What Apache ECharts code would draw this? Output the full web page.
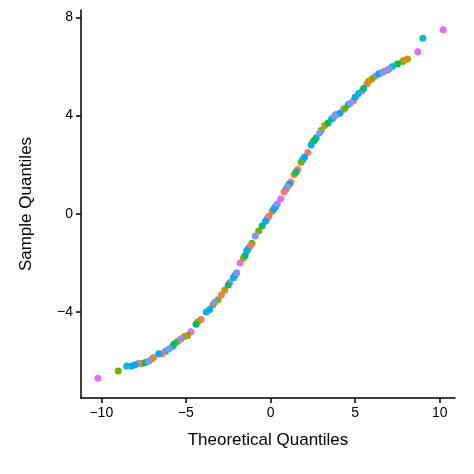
<!DOCTYPE html><html><head><meta charset="utf-8"><script src="https://cdn.jsdelivr.net/npm/echarts@6/dist/echarts.min.js"></script></head><body style="margin:0"><div id="c" style="width:474px;height:474px"></div><script>
const xTicks=[-10,-5,0,5,10];
const yTicks=[-4,0,4,8];
const colors=['#E76BF3','#00BFC4','#7CAE00','#F8766D','#C49A00','#00A9FF','#00BE67','#8494FF'];
const s1=[[-10.2,-6.7],[10.2,7.5],[8.7,6.6],[-4.7,-4.8],[1.2,1.3],[3.7,3.9],[-1.8,-2.0],[6.2,5.6],[-2.4,-2.8],[0.6,0.6],[4.3,4.25],[-6.9,-5.85],[5.4,5.0],[-0.2,-0.2]];
const s2=[[9,7.15],[-8.5,-6.2],[-2.2,-2.6],[2.7,3.1],[5.2,4.9],[-6.2,-5.6],[0.3,0.3],[7.2,6.0],[-3.8,-4.0],[1.9,2.2],[-5.8,-5.4],[-1.3,-1.4],[3.6,3.85],[6.9,5.85]];
const s3=[[-9,-6.4],[-3.1,-3.5],[1.8,2.1],[4.4,4.3],[-0.7,-0.7],[7.8,6.2],[-5.5,-5.2],[-1.1,-1.2],[3.0,3.4],[6.0,5.5],[-4.9,-4.95],[0.9,1.0],[-7.6,-6.1]];
const s4=[[-7.8,-6.1],[-4.1,-4.3],[-1.2,-1.3],[2.2,2.5],[4.9,4.6],[6.7,5.8],[0.8,0.9],[-2.9,-3.3],[-0.1,-0.1],[3.9,4.05],[-6.4,-5.7],[1.6,1.8],[5.7,5.3]];
const s5=[[8.1,6.3],[-7,-5.9],[-2.7,-3.1],[0.1,0.1],[3.2,3.6],[5.8,5.4],[-5.1,-5.0],[-1.6,-1.8],[1.4,1.6],[-4.3,-4.4],[7.9,6.25],[2.5,2.95],[-3.4,-3.7]];
const s6=[[-8.2,-6.2],[-3.6,-3.9],[-0.3,-0.3],[2.4,2.8],[4.1,4.1],[6.4,5.7],[-6.6,-5.7],[-1.4,-1.5],[2.0,2.3],[5.0,4.75],[-8.0,-6.15],[0.2,0.2],[-2.1,-2.5]];
const s7=[[-7.4,-6.05],[-1.5,-1.7],[1.5,1.7],[3.4,3.7],[5.5,5.1],[-4.4,-4.5],[7.5,6.1],[-0.5,-0.5],[2.6,3.0],[-2.5,-2.9],[4.6,4.45],[-5.7,-5.3],[1.1,1.2]];
const s8=[[-6,-5.5],[-2,-2.4],[-0.9,-0.9],[1,1.1],[2.9,3.3],[4.7,4.5],[7,5.9],[-3.3,-3.6],[0.4,0.4],[-5.3,-5.1],[-7.2,-6.0],[3.8,4.0],[6.6,5.75]];
const groups=[s1,s2,s3,s4,s5,s6,s7,s8];
const font='Liberation Sans';
const ax=(name,min,max,ticks,gap)=>({type:'value',min,max,name,nameLocation:'middle',nameGap:gap,
 nameTextStyle:{fontFamily:font,fontSize:17,color:'#000'},splitLine:{show:false},
 axisLine:{onZero:false,lineStyle:{color:'#000',width:1.5}},
 axisTick:{customValues:ticks,length:5,lineStyle:{color:'#000',width:1.5}},
 axisLabel:{customValues:ticks,fontFamily:font,fontSize:14,color:'#000',formatter:v=>String(v).replace('-','\u2212')}});
echarts.init(document.getElementById('c')).setOption({
 animation:false,
 grid:{left:81,right:19,top:10,bottom:76},
 xAxis:ax('Theoretical Quantiles',-11.2,10.9,xTicks,34),
 yAxis:ax('Sample Quantiles',-7.5,8.3,yTicks,46),
 series:groups.map((g,i)=>({type:'scatter',data:g,symbolSize:7,itemStyle:{color:colors[i],opacity:1}}))
});
</script></body></html>
